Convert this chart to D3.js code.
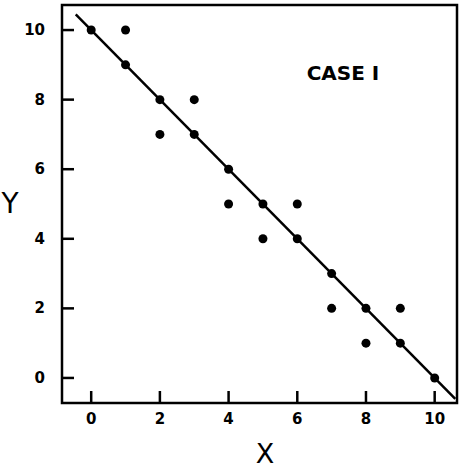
<!DOCTYPE html>
<html><head><meta charset="utf-8">
<script src="https://cdn.jsdelivr.net/npm/d3@7"></script>
<style>body{margin:0;background:#fff}</style>
</head><body><div id="canvas"></div>
<script>
var xValues = [0, 1, 1, 2, 2, 3, 3, 4, 4, 5, 5, 6, 6, 7, 7, 8, 8, 9, 9, 10];
var yValues = [10, 10, 9, 8, 7, 8, 7, 6, 5, 5, 4, 5, 4, 3, 2, 2, 1, 2, 1, 0];
var xTicks = [0, 2, 4, 6, 8, 10];
var yTicks = [0, 2, 4, 6, 8, 10];
var fitLine = [[-0.45, 10.45], [10.6, -0.6]];

var canvasWidth = 474, canvasHeight = 470;
var svg = d3.select("#canvas").append("svg")
    .attr("width", canvasWidth).attr("height", canvasHeight);

var x = d3.scaleLinear().domain([-0.85, 10.65]).range([62, 457]);
var y = d3.scaleLinear().domain([-0.72, 10.72]).range([403, 5]);

var font = "DejaVu Sans";

// frame
svg.append("rect")
    .attr("x", 62).attr("y", 5).attr("width", 395).attr("height", 398)
    .attr("fill", "none").attr("stroke", "black").attr("stroke-width", 2.5);

// ticks drawn inward
svg.selectAll("line.xt").data(xTicks).enter().append("line")
    .attr("x1", function(d) { return x(d); }).attr("x2", function(d) { return x(d); })
    .attr("y1", 403).attr("y2", 391)
    .attr("stroke", "black").attr("stroke-width", 2.5);
svg.selectAll("line.yt").data(yTicks).enter().append("line")
    .attr("x1", 62).attr("x2", 74)
    .attr("y1", function(d) { return y(d); }).attr("y2", function(d) { return y(d); })
    .attr("stroke", "black").attr("stroke-width", 2.5);

svg.selectAll("text.xl").data(xTicks).enter().append("text")
    .attr("x", function(d) { return x(d); }).attr("y", 424)
    .attr("text-anchor", "middle")
    .attr("font-family", font).attr("font-weight", "bold").attr("font-size", 15)
    .text(function(d) { return d; });
svg.selectAll("text.yl").data(yTicks).enter().append("text")
    .attr("x", 45).attr("y", function(d) { return y(d) + 5; })
    .attr("text-anchor", "end")
    .attr("font-family", font).attr("font-weight", "bold").attr("font-size", 15)
    .text(function(d) { return d; });

svg.append("line")
    .attr("x1", x(fitLine[0][0])).attr("y1", y(fitLine[0][1]))
    .attr("x2", x(fitLine[1][0])).attr("y2", y(fitLine[1][1]))
    .attr("stroke", "black").attr("stroke-width", 2.5);

svg.selectAll("circle.pt").data(xValues).enter().append("circle")
    .attr("cx", function(d) { return x(d); })
    .attr("cy", function(d, i) { return y(yValues[i]); })
    .attr("r", 4.5).attr("fill", "black");

svg.append("text").attr("x", 343).attr("y", 80).attr("text-anchor", "middle")
    .attr("font-family", font).attr("font-weight", "bold").attr("font-size", 20).text("CASE I");
svg.append("text").attr("x", 265).attr("y", 463).attr("text-anchor", "middle")
    .attr("font-family", font).attr("font-size", 27).text("X");
svg.append("text").attr("x", 10).attr("y", 213).attr("text-anchor", "middle")
    .attr("font-family", font).attr("font-size", 28).text("Y");
</script></body></html>
